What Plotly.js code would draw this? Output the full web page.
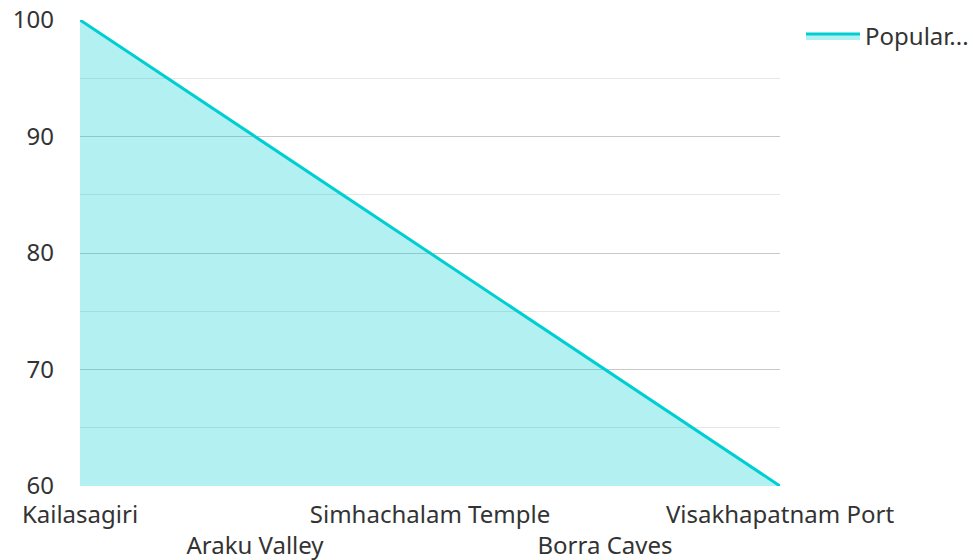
<!DOCTYPE html>
<html>
<head>
<meta charset="utf-8">
<script src="https://cdn.plot.ly/plotly-3.0.1.min.js"></script>
<style>html,body{margin:0;padding:0;background:#fff;}#chart{width:973px;height:560px;}</style>
</head>
<body>
<div id="chart"></div>
<script>
const categories = ["Kailasagiri", "Araku Valley", "Simhachalam Temple", "Borra Caves", "Visakhapatnam Port"];
const popularity = [100, 90, 80, 70, 60];
const seriesName = "Popular...";
const yTicks = [60, 70, 80, 90, 100];

const tickText = categories.map((c, i) => i % 2 === 1 ? "<br>" + c : c);

const trace = {
  type: "scatter",
  mode: "lines",
  x: categories,
  y: popularity,
  name: seriesName,
  fill: "tozeroy",
  fillcolor: "rgba(0,206,209,0.3)",
  line: {color: "#00CED1", width: 3},
  hoverinfo: "x+y"
};

const layout = {
  width: 973, height: 560,
  margin: {l: 80, r: 193, t: 20, b: 74, autoexpand: false},
  paper_bgcolor: "#fff", plot_bgcolor: "#fff",
  font: {family: "Noto Sans, Open Sans, sans-serif", size: 24, color: "#333"},
  showlegend: true,
  legend: {x: 1.03, y: 1.013, xanchor: "left", yanchor: "top", itemwidth: 54, font: {size: 24, color: "#333"}},
  xaxis: {
    type: "category",
    range: [0, 4],
    tickvals: categories,
    ticktext: tickText,
    tickangle: 0,
    automargin: false,
    showgrid: false,
    zeroline: false,
    showline: false,
    ticks: "",
    ticklabelstandoff: 12,
    tickfont: {size: 24, color: "#333"}
  },
  yaxis: {
    range: [60, 100],
    tickvals: yTicks,
    automargin: false,
    showgrid: true,
    gridcolor: "#c8c8c8",
    gridwidth: 1,
    minor: {dtick: 5, showgrid: true, gridcolor: "#e6e6e6", gridwidth: 1},
    zeroline: false,
    showline: false,
    ticks: "",
    ticklabelstandoff: 25,
    tickfont: {size: 24, color: "#333"}
  }
};

Plotly.newPlot("chart", [trace], layout, {displayModeBar: false});
</script>
</body>
</html>
